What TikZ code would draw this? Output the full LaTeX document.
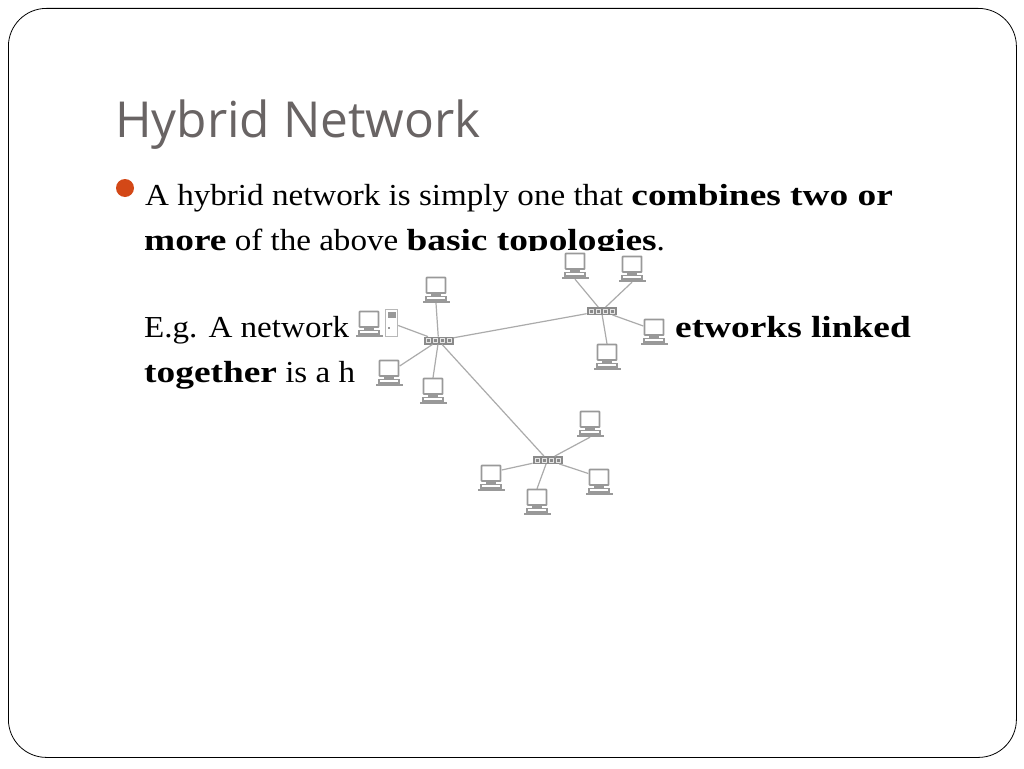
\documentclass[tikz,border=0pt]{standalone}
\usepackage{fontspec}
\setmainfont{Liberation Serif}[FakeStretch=1.085,BoldFeatures={FakeStretch=1.225}]
\newfontfamily\titlefont{Open Sans}
\definecolor{accent}{HTML}{D34817}
\definecolor{titlegray}{HTML}{696464}
\definecolor{icon}{HTML}{999999}
\definecolor{wire}{HTML}{ABABAB}
\tikzset{
  frame/.style={draw=black,line width=0.8pt,rounded corners=38pt,fill=white},
  titletext/.style={anchor=base west,inner sep=0,text=titlegray,font=\titlefont\fontsize{49.6}{49.6}\selectfont},
  bodytext/.style={anchor=base west,inner sep=0,text=black,font=\fontsize{30.5}{30.5}\selectfont},
  bulletdot/.style={circle,fill=accent,inner sep=0,minimum size=18pt},
  pcbox/.style={rectangle,inner sep=0,minimum width=21pt,minimum height=26pt},
  hubbox/.style={rectangle,draw=icon!90!black,fill=icon!90!black,line width=0.8pt,inner sep=0,minimum width=29pt,minimum height=7pt},
  wireline/.style={draw=wire,line width=1.2pt},
  computer/.pic={
    \draw[icon,fill=white,line width=1.9pt,rounded corners=0.6pt] (-9.5,-12.5) rectangle (9.5,3);
    \fill[icon] (-5,3) rectangle (5,6);
    \draw[icon,fill=white,line width=1.1pt] (-10,6.5) rectangle (10,10);
    \fill[icon] (-13.5,10.5) -- (13.5,10.5) -- (13.5,13) -- (-13.5,13) -- cycle;
  },
  port/.pic={\draw[white!75!icon,line width=0.7pt] (-1.9,-1.9) rectangle (1.9,1.9);},
}
\newcommand{\pcnode}[2]{\node[pcbox] (#1) at (#2) {};}
\begin{document}
\begin{tikzpicture}[x=1pt,y=-1pt]
\useasboundingbox (0,0) rectangle (1024,768);
\fill[white] (0,0) rectangle (1024,768);
\node[frame,minimum width=1008pt,minimum height=749pt,anchor=north west] (slide) at (8,8) {};
\node[titletext] (title) at (115,137) {Hybrid Network};
\node[bulletdot] (bullet) at (125,188) {};
\node[bodytext] (l1) at (145,205) {A hybrid network is simply one that \textbf{combines two or}};
\node[bodytext] (l2) at (144,250) {\textbf{more} of the above \textbf{basic topologies}.};
\node[bodytext] (l3) at (144,337) {E.g. A network};
\node[bodytext] (l3b) at (675,337) {\textbf{etworks linked}};
\node[bodytext] (l4) at (144,382) {\textbf{together} is a h};
\fill[white] (355,251) rectangle (672,520);
% tower PC
\node[pcbox,minimum width=13pt,minimum height=28pt] (tower) at (391.5,323) {};
\pcnode{a1}{436,290}
\pcnode{a2}{369,324}
\pcnode{a3}{389,373}
\pcnode{a4}{433,391}
\pcnode{b1}{575,266}
\pcnode{b2}{632,269}
\pcnode{b3}{654,332}
\pcnode{b4}{607,357}
\pcnode{c1}{590,424}
\pcnode{c2}{491,478}
\pcnode{c3}{599,482}
\pcnode{c4}{537,502}
\node[hubbox] (h1) at (438.5,340.5) {};
\node[hubbox] (h2) at (601.5,311) {};
\node[hubbox] (h3) at (547.5,460) {};
\draw[wireline] (h1) -- (tower);
\draw[wireline] (h1) -- (a1.south);
\draw[wireline] (h1) -- (a3);
\draw[wireline] (h1) -- (a4.north);
\draw[wireline] (h2) -- (b1.south);
\draw[wireline] (h2) -- (b2.south);
\draw[wireline] (h2) -- ([yshift=6pt]b3.west);
\draw[wireline] (h2) -- (b4.north);
\draw[wireline] (h3) -- (c1.south);
\draw[wireline] (h3) -- ([yshift=8pt]c2.east);
\draw[wireline] (h3) -- ([yshift=8.5pt]c3.west);
\draw[wireline] (h3) -- (c4.north);
\draw[wireline] (h1) -- (h2);
\draw[wireline] (h1) -- (h3);
\foreach \x/\y in {436/290,369/324,389/373,433/391,575/266,632/269,654/332,607/357,590/424,491/478,599/482,537/502}
  \pic at (\x,\y) {computer};
\draw[icon!70,fill=white,line width=1pt] (385.5,309.5) rectangle (397.5,336.5);
\fill[icon] (387.5,311.5) rectangle (395.5,318);
\fill[icon] (388,327) rectangle (389.5,328.5);
\foreach \x in {-10.5,-3.5,3.5,10.5} {
  \pic at (438.5+\x,340.5) {port};
  \pic at (601.5+\x,311) {port};
  \pic at (547.5+\x,460) {port};
}
\end{tikzpicture}
\end{document}
